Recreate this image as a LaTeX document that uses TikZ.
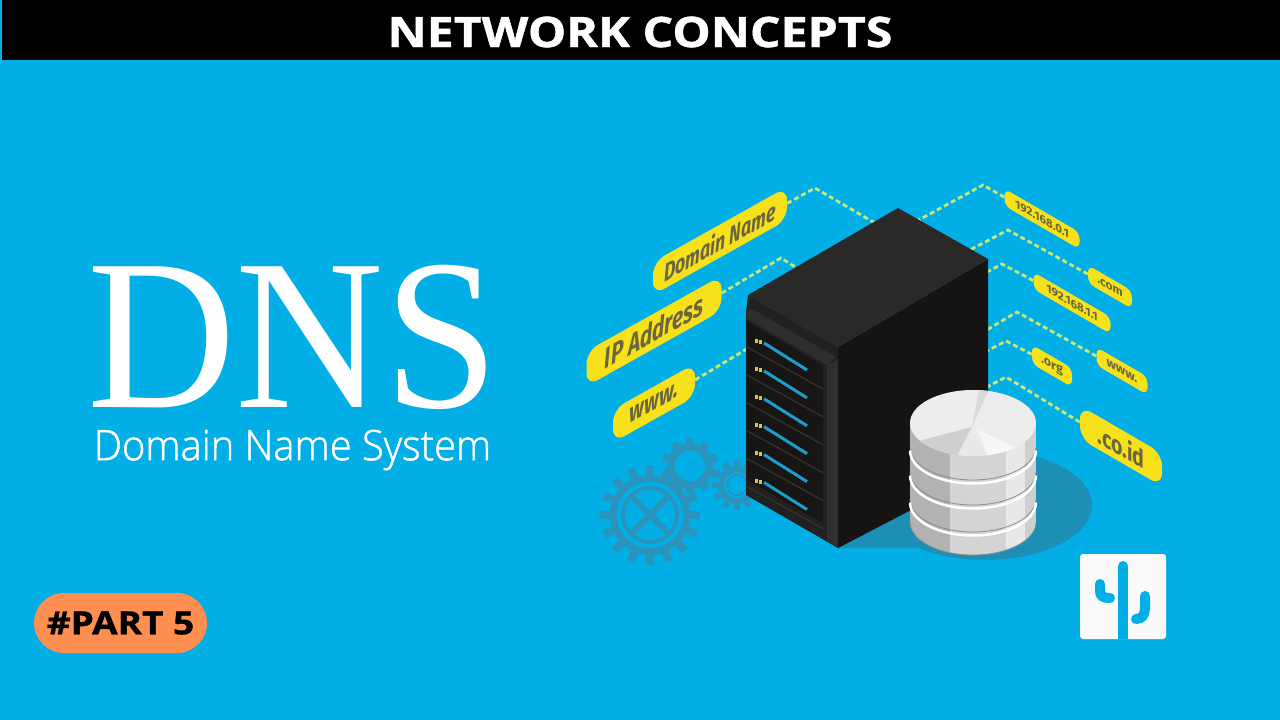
\documentclass[tikz,border=0pt]{standalone}
\usepackage{fontspec}
\usepackage{tikz}
\newfontfamily\titlefont[BoldFeatures={FakeBold=1}]{Open Sans}
\newfontfamily\subfont[FakeBold=1.2]{Open Sans Light}
\newfontfamily\pillfont{Fira Sans}
\newfontfamily\dnsfont{Liberation Serif}
\usetikzlibrary{shapes.misc,positioning,calc}
\definecolor{bgblue}{HTML}{02AEE6}
\definecolor{pillyellow}{HTML}{F7E11B}
\definecolor{pilltext}{HTML}{6B6640}
\definecolor{dashgreen}{HTML}{C6E878}
\definecolor{gearblue}{HTML}{2A93BC}
\definecolor{shadowblue}{HTML}{1C8FB6}
\definecolor{partorange}{HTML}{FF8F50}
\definecolor{srvtop}{HTML}{2B2928}
\definecolor{srvside}{HTML}{161412}
\definecolor{srvfront}{HTML}{232120}
\definecolor{srvband}{HTML}{302E2C}
\definecolor{srvrack}{HTML}{181615}
\definecolor{srvline}{HTML}{35322F}
\definecolor{srvbar}{HTML}{1E9CCB}
\definecolor{srvled}{HTML}{D8C84A}
\tikzset{
    pill/.style={fill=pillyellow, text=pilltext, rectangle, inner sep=0pt, font=\pillfont\bfseries},
    pillleft/.style={pill, rounded corners=13pt, yslant=0.56, font=\pillfont\bfseries\itshape},
    pillright/.style={pill, rounded corners=7pt, yslant=-0.58},
    link/.style={draw=dashgreen, line width=2.8pt, dash pattern=on 5pt off 3pt}
}
\newcommand{\narrowtext}[2]{\scalebox{#1}[1]{#2}}
\newcommand{\dbarc}[1]{(910,#1) .. controls (910,#1+18.2) and (938.2,#1+33) .. (973,#1+33) .. controls (1007.8,#1+33) and (1036,#1+18.2) .. (1036,#1)}
\newcommand{\gearteeth}[5]{%
    \foreach \a in {1,...,#4} {
        \fill[gearblue, rotate around={\a*360/#4:(#1,#2)}] (#1-#5,#2) rectangle (#1+#5,#2-#3);
    }}
\begin{document}
\begin{tikzpicture}[x=1pt,y=-1pt]
    \useasboundingbox (0,0) rectangle (1280,720);
    \fill[bgblue] (0,0) rectangle (1280,720);
    \fill[black] (2,0) rectangle (1280,60);
    \node[text=white, xscale=1.148, font=\titlefont\bfseries\fontsize{42}{42}\selectfont] (title) at (640,32) {NETWORK CONCEPTS};

    \node[text=white, xscale=0.956, anchor=base, font=\dnsfont\fontsize{215}{215}\selectfont, inner sep=0pt] (dns) at (293,407) {DNS};
    \node[text=white, xscale=0.95, font=\subfont\fontsize{42}{42}\selectfont, inner sep=0pt] (dnsname) at (292.5,450) {Domain Name System};

    \node[fill=partorange, rounded rectangle, minimum width=173pt, minimum height=60pt, inner sep=0pt,
        font=\titlefont\bfseries\fontsize{32}{32}\selectfont] (part) at (120.5,623) {\scalebox{1.157}[1]{\#PART 5}};

    % gears
    \gearteeth{650}{515}{50}{16}{4}
    \fill[gearblue] (650,515) circle[radius=40];
    \fill[bgblue] (650,515) circle[radius=33];
    \fill[gearblue] (650,515) circle[radius=29];
    \fill[bgblue] (650,515) circle[radius=25];
    \draw[gearblue, line width=6pt] (632,497) -- (668,533);
    \draw[gearblue, line width=6pt] (668,497) -- (632,533);
    \gearteeth{690}{466}{28}{10}{4}
    \fill[gearblue] (690,466) circle[radius=23];
    \fill[bgblue] (690,466) circle[radius=15];
    \gearteeth{737}{485}{25}{12}{3}
    \fill[gearblue] (737,485) circle[radius=19];
    \fill[bgblue] (737,485) circle[radius=13];
    \fill[gearblue] (737,485) circle[radius=11];
    \fill[bgblue] (737,485) circle[radius=9];

    % labels
    \node[pillleft, minimum width=134pt, minimum height=33pt, font=\pillfont\bfseries\itshape\fontsize{25}{25}\selectfont] (domain) at (720,241) {\narrowtext{0.71}{Domain Name}};
    \node[pillleft, minimum width=135pt, minimum height=35pt, font=\pillfont\bfseries\itshape\fontsize{29}{29}\selectfont] (ipaddr) at (654,331) {\narrowtext{0.72}{IP Address}};
    \node[pillleft, minimum width=82pt, minimum height=33pt, font=\pillfont\bfseries\itshape\fontsize{27}{27}\selectfont] (wwwleft) at (654,403) {\narrowtext{0.74}{www.}};
    \node[pillright, minimum width=75pt, minimum height=17pt, font=\pillfont\bfseries\fontsize{11.5}{11.5}\selectfont] (ipzero) at (1042,219) {192.168.0.1};
    \node[pillright, minimum width=44pt, minimum height=18pt, font=\pillfont\bfseries\fontsize{12}{12}\selectfont] (com) at (1110,287) {.com};
    \node[pillright, minimum width=77pt, minimum height=17pt, font=\pillfont\bfseries\fontsize{11.5}{11.5}\selectfont] (ipone) at (1072,303) {192.168.1.1};
    \node[pillright, minimum width=51pt, minimum height=18pt, font=\pillfont\bfseries\fontsize{12.5}{12.5}\selectfont] (wwwright) at (1122,371) {www.};
    \node[pillright, minimum width=40pt, minimum height=19pt, font=\pillfont\bfseries\fontsize{12.5}{12.5}\selectfont] (org) at (1052,366) {.org};
    \node[pillright, rounded corners=13pt, minimum width=82pt, minimum height=33pt, font=\pillfont\bfseries\fontsize{25}{25}\selectfont] (coid) at (1121,446) {\narrowtext{0.78}{.co.id}};

    % connectors
    \coordinate (bdomain) at (815,188);
    \coordinate (sdomain) at (880,226);
    \coordinate (bipaddr) at (781,258);
    \coordinate (sipaddr) at (800,270);
    \coordinate (swww) at (750,347);
    \coordinate (bipzero) at (983,185);
    \coordinate (sipzero) at (915,222);
    \coordinate (bcom) at (1008,230);
    \coordinate (scom) at (966,252);
    \coordinate (bipone) at (1002,264);
    \coordinate (sipone) at (985,273);
    \coordinate (bwww) at (1017,312);
    \coordinate (swwwr) at (985,331);
    \coordinate (borg) at (1006,341);
    \coordinate (sorg) at (985,352);
    \coordinate (bcoid) at (1006,377);
    \coordinate (scoid) at (985,388);
    \draw[link] (domain.east) -- (bdomain) -- (sdomain);
    \draw[link] (ipaddr.east) -- (bipaddr) -- (sipaddr);
    \draw[link] (wwwleft.east) -- (swww);
    \draw[link] (ipzero.west) -- (bipzero) -- (sipzero);
    \draw[link] (com.west) -- (bcom) -- (scom);
    \draw[link] (ipone.west) -- (bipone) -- (sipone);
    \draw[link] (wwwright.west) -- (bwww) -- (swwwr);
    \draw[link] (org.west) -- (borg) -- (sorg);
    \draw[link] (coid.west) -- (bcoid) -- (scoid);

    % shadow
    \fill[shadowblue] (985,505) circle[x radius=107, y radius=55];
    \fill[shadowblue] (838,548) -- (988,458) -- (1000,548) -- cycle;

    % server
    \fill[srvside] (838,347) -- (988,259) -- (988,470) -- (838,548) -- cycle;
    \fill[srvtop] (748,295) -- (898,208) -- (988,259) -- (838,347) -- cycle;
    \fill[srvfront] (746,312) -- (748,295) -- (838,347) -- (838,548) -- (746,495) -- cycle;
    \fill[srvband] (746,312) -- (752,309) -- (836,357) -- (827,365) -- (746,318) -- cycle;
    \fill[srvband] (827,365) -- (838,359) -- (838,548) -- (827,541) -- cycle;
    \fill[srvrack] (747,321) -- (823,366) -- (823,523) -- (747,480) -- cycle;
    \foreach \i in {0,...,5} {
        \draw[srvline, line width=1.2pt] (747,347+27.9*\i) -- (823,389+27.9*\i);
        \fill[srvled] (755,339+27.9*\i) rectangle (758,343+27.9*\i);
        \fill[srvled] (759,340+27.9*\i) rectangle (762,344+27.9*\i);
        \draw[srvbar, line width=3pt] (764,343+27.9*\i) -- (807,370+27.9*\i);
    }

    % database
    \foreach \yb/\yt/\rim in {522/495/none,499/470/white,472/445/white,447/423/white} {
        \begin{scope}
            \clip (910,\yt) -- \dbarc{\yb} -- (1036,\yt) -- cycle;
            \fill[black!30] (910,380) rectangle (950,570);
            \fill[black!17] (950,380) rectangle (1006,570);
            \fill[black!9] (1006,380) rectangle (1025,570);
            \fill[black!19] (1025,380) rectangle (1036,570);
        \end{scope}
        \draw[black!45, line width=0.8pt] \dbarc{\yb};
        \draw[draw=\rim, line width=2.5pt] \dbarc{\yb+3.5};
    }
    \begin{scope}
        \clip (973,423) circle[x radius=63, y radius=33];
        \fill[black!7] (900,380) rectangle (1040,470);
        \fill[black!19] (972,427) -- (900,446) -- (900,470) -- (950,470) -- cycle;
        \fill[black!9] (972,427) -- (950,470) -- (993,470) -- cycle;
        \fill[black!3] (978,430) -- (993,470) -- (1025,452) -- cycle;
        \fill[black!15] (972,427) -- (980,385) -- (991,385) -- cycle;
    \end{scope}

    % logo
    \fill[black!2, rounded corners=3pt] (1080,554) rectangle (1166,639);
    \draw[bgblue, line width=10pt, line cap=round] (1123,566) -- (1123,630);
    \fill[bgblue] (1118,625) rectangle (1128,639);
    \draw[bgblue, line width=10pt, line cap=round] (1100,584) -- (1100,591) .. controls (1100,596) and (1103,598) .. (1110,598);
    \draw[bgblue, line width=10pt, line cap=round] (1145,596) -- (1145,608) .. controls (1145,615) and (1142,619) .. (1136,619);
\end{tikzpicture}
\end{document}
